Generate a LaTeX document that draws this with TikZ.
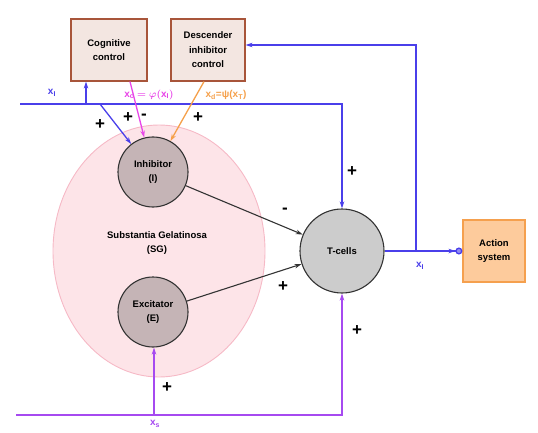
\documentclass[tikz,border=0pt]{standalone}
\usepackage{fontspec}
\setmainfont{Liberation Sans}
\usetikzlibrary{arrows.meta,shapes.geometric}
\definecolor{boxfill}{HTML}{F3E6E1}
\definecolor{boxdraw}{HTML}{A8553A}
\definecolor{blueL}{HTML}{4A3FEA}
\definecolor{magL}{HTML}{E845E8}
\definecolor{orL}{HTML}{F5A04A}
\definecolor{purL}{HTML}{A64AF0}
\definecolor{sgfill}{HTML}{FDE4E8}
\definecolor{sgdraw}{HTML}{F6B9C6}
\definecolor{cellfill}{HTML}{C5B4B6}
\definecolor{tfill}{HTML}{CCCCCC}
\definecolor{actfill}{HTML}{FDCB9C}
\definecolor{actdraw}{HTML}{F5A04E}
\begin{document}
\begin{tikzpicture}[x=1pt,y=-1pt,
  every node/.style={font=\fontsize{9.5}{14.5}\selectfont\bfseries, inner sep=0pt},
  ctrlbox/.style={draw=boxdraw, fill=boxfill, line width=1.2pt, minimum height=62pt, align=center},
  cell/.style={circle, draw=black!80, line width=1.1pt, fill=cellfill, minimum size=70pt, align=center, font=\fontsize{9.5}{14}\selectfont\bfseries},
  tip/.style={-{Stealth[length=7pt,width=4.5pt]}},
  bl/.style={draw=blueL, line width=1.3pt},
  sign/.style={font=\fontsize{17}{17}\selectfont\bfseries},
  lab/.style={font=\fontsize{10}{11}\selectfont\bfseries\boldmath}]
\useasboundingbox (0,0) rectangle (538,433);
% substantia gelatinosa
\node[ellipse, draw=sgdraw, fill=sgfill, line width=0.9pt, minimum width=212pt, minimum height=252pt] (sg) at (159,251) {};
\node[align=center] (sglab) at (157,243) {Substantia Gelatinosa\\(SG)};
% boxes
\node[ctrlbox, minimum width=76pt] (cog) at (109,50) {Cognitive\\control};
\node[ctrlbox, minimum width=74pt] (desc) at (208,50) {Descender\\inhibitor\\control};
\node[draw=actdraw, fill=actfill, line width=1.2pt, minimum width=62pt, minimum height=62pt, align=center] (act) at (494,251) {Action\\system};
% cells
\node[cell] (inh) at (153,172) {Inhibitor\\(I)};
\node[cell] (exc) at (153,312) {Excitator\\(E)};
\node[circle, draw=black!80, line width=1.1pt, fill=tfill, minimum size=84pt] (tc) at (342,251) {T-cells};
% coordinates
\coordinate (xIL) at (20,104);
\coordinate (xIR) at (342,104);
\coordinate (j1) at (86,104);
\coordinate (j2) at (100,104);
\coordinate (fbT) at (416,45);
\coordinate (fbB) at (416,251);
\coordinate (xsL) at (16,415);
\coordinate (xsR) at (342,415);
\coordinate (j3) at (154,415);
% blue x_I line
\draw[bl, tip] (xIL) -- (xIR) -- (tc.north);
\draw[bl, tip] (j1) -- (j1 |- cog.south);
\draw[bl, tip] (j2) -- (inh);
% magenta and orange
\draw[magL, line width=1.3pt, tip] ([xshift=21pt]cog.south) -- (inh);
\draw[orL, line width=1.3pt, tip] ([xshift=-4pt]desc.south) -- (inh);
% dark connectors
\draw[black!80, line width=1.1pt, tip] (inh) -- (tc);
\draw[black!80, line width=1.1pt, tip] (exc) -- (tc);
% output
\draw[bl, -{Stealth[length=7pt,width=4.5pt]Circle[length=7pt,fill=blueL!60]}] (tc) -- (act);
\draw[bl, tip] (fbB) -- (fbT) -- (desc.east |- fbT);
% purple x_s line
\draw[purL, line width=1.3pt, tip] (xsL) -- (xsR) -- (tc.south);
\draw[purL, line width=1.3pt, tip] (j3) -- (j3 |- exc.south);
% labels
\node[lab, text=blueL] (lxI) at (52,93) {x\textsubscript{I}};
\node[lab, text=magL] (lxc) at (149,95) {x\textsubscript{c} $=\varphi($x\textsubscript{I}$)$};
\node[lab, text=orL] (lxd) at (226,95) {x\textsubscript{d}=ψ(x\textsubscript{T})};
\node[lab, text=blueL] (lxI2) at (420,266) {x\textsubscript{I}};
\node[lab, text=purL] (lxs) at (155,424) {x\textsubscript{s}};
% signs
\node[sign] (s1) at (100,125) {+};
\node[sign] (s2) at (128,118) {+};
\node[sign] (s3) at (144,117) {-};
\node[sign] (s4) at (198,118) {+};
\node[sign] (s5) at (352,172) {+};
\node[sign] (s6) at (285,211) {-};
\node[sign] (s7) at (283,287) {+};
\node[sign] (s8) at (357,331) {+};
\node[sign] (s9) at (167,388) {+};
\end{tikzpicture}
\end{document}
